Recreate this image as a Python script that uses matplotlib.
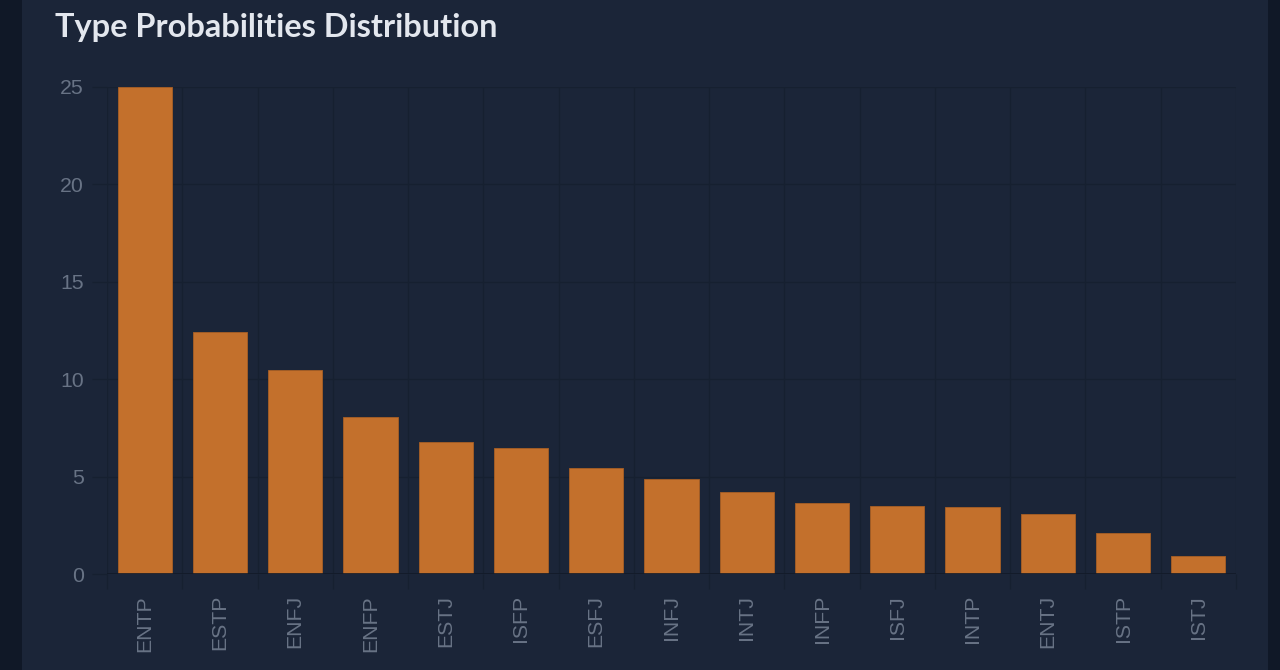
import matplotlib
matplotlib.use("Agg")
import matplotlib.pyplot as plt
from matplotlib.patches import Rectangle
import numpy as np

categories = ["ENTP", "ESTP", "ENFJ", "ENFP", "ESTJ", "ISFP", "ESFJ", "INFJ",
              "INTJ", "INFP", "ISFJ", "INTP", "ENTJ", "ISTP", "ISTJ"]
values = [25.0, 12.42, 10.47, 8.06, 6.78, 6.47, 5.44, 4.88,
          4.21, 3.64, 3.49, 3.44, 3.06, 2.12, 0.92]
yticks = [0, 5, 10, 15, 20, 25]

card = "#1b2538"
strip = "#101827"
bar_color = "#c3702c"
grid_color = "#162030"
label_color = "#687385"

PX = 72 / 100  # points per pixel at dpi 100

fig = plt.figure(figsize=(12.8, 6.7), dpi=100, facecolor=card)
fig.patches.append(Rectangle((0, 0), 22 / 1280, 1, transform=fig.transFigure,
                             facecolor=strip, edgecolor="none", zorder=0))
fig.patches.append(Rectangle((1268 / 1280, 0), 12 / 1280, 1, transform=fig.transFigure,
                             facecolor=strip, edgecolor="none", zorder=0))

ax = fig.add_axes([107 / 1280, 1 - 574 / 670, (1236 - 107) / 1280, (574 - 87) / 670])
ax.set_facecolor(card)

x = np.arange(len(categories))
ax.bar(x, values, width=0.72, color=bar_color, edgecolor="#a85f25", linewidth=0.6, zorder=3)

ax.set_xlim(-0.5, len(categories) - 0.5)
ax.set_ylim(0, 25)
ax.set_yticks(yticks)
ax.set_yticklabels([str(v) for v in yticks])
ax.set_xticks(x)
ax.set_xticklabels(categories, rotation=90)
ax.set_xticks(np.arange(-0.5, len(categories)), minor=True)

for s in ax.spines.values():
    s.set_visible(False)
ax.axhline(0, color="#121a28", linewidth=1.2, zorder=4)

ax.grid(axis="y", which="major", color=grid_color, linewidth=1.0, zorder=0)
ax.grid(axis="x", which="minor", color=grid_color, linewidth=1.0, zorder=0)
ax.grid(axis="x", which="major", visible=False)

ax.tick_params(axis="y", which="major", length=15 * PX, width=1.0, color=grid_color,
               labelcolor=label_color, labelsize=15.3, pad=8 * PX)
ax.tick_params(axis="x", which="major", length=0, labelcolor=label_color,
               labelsize=15.3, pad=21 * PX)
ax.tick_params(axis="x", which="minor", length=15 * PX, width=1.0, color=grid_color)
for lab in ax.get_xticklabels() + ax.get_yticklabels():
    lab.set_fontfamily(["Liberation Sans", "DejaVu Sans"])

fig.text(55 / 1280, 1 - 27 / 670, "Type Probabilities Distribution",
         fontsize=23.4, fontweight="bold", family=["Lato", "DejaVu Sans"],
         color="#e3e7ee", ha="left", va="center")

fig.savefig("out.png", dpi=100, facecolor=card)
